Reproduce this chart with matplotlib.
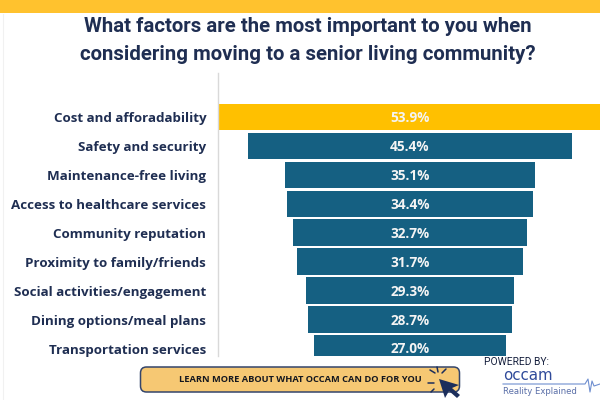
import matplotlib
matplotlib.use("Agg")
import matplotlib.pyplot as plt
from matplotlib.patches import FancyBboxPatch, Polygon, Rectangle

categories = [
    "Cost and afforadability", "Safety and security", "Maintenance-free living",
    "Access to healthcare services", "Community reputation", "Proximity to family/friends",
    "Social activities/engagement", "Dining options/meal plans", "Transportation services",
]
values = [53.9, 45.4, 35.1, 34.4, 32.7, 31.7, 29.3, 28.7, 27.0]
highlight_colors = ["#FFC000"] + ["#156082"] * 8
title_lines = ["What factors are the most important to you when",
               "considering moving to a senior living community?"]
cta_text = "LEARN MORE ABOUT WHAT OCCAM CAN DO FOR YOU"

W, H = 600, 400
NAVY = "#1F2E52"
fig = plt.figure(figsize=(W / 100, H / 100), dpi=100, facecolor="white")

# page layer in pixel units, y pointing down
page = fig.add_axes([0, 0, 1, 1], zorder=0)
page.set_xlim(0, W)
page.set_ylim(H, 0)
page.axis("off")

page.add_patch(Rectangle((0, 0), W, 13, color="#FFC22E", lw=0))
page.plot([3, 3], [14, 400], color="#F1F1F1", lw=0.8)
page.text(307.5, 26.5, title_lines[0], ha="center", va="center", fontsize=14.7,
          family="Roboto", fontweight="bold", color=NAVY)
page.text(307.5, 54, title_lines[1], ha="center", va="center", fontsize=14.7,
          family="Roboto", fontweight="bold", color=NAVY)

# centred funnel bars
SCALE = 7.13
ax_left, ax_top, ax_bottom = 218, 73, 356
ax = fig.add_axes([ax_left / W, 1 - ax_bottom / H, (W - ax_left) / W, (ax_bottom - ax_top) / H],
                  zorder=1)
centre_px = 410 - ax_left
ax.set_xlim(-centre_px / SCALE, (W - ax_left - centre_px) / SCALE)
row = 28.95
ax.set_ylim((ax_bottom - 117) / row, -(117 - ax_top) / row)
ax.patch.set_alpha(0)
positions = list(range(len(values)))
ax.barh(positions, values, left=[-v / 2 for v in values], height=0.92,
        color=highlight_colors, linewidth=0)
for p, v in zip(positions, values):
    ax.text(0, p + 0.03, f"{v:.1f}%", ha="center", va="center", color="#F4F4F4",
            fontsize=9.8, family="Open Sans", fontweight="bold")
ax.set_yticks(positions, categories, fontsize=9.6, family="Open Sans",
              fontweight="bold", color=NAVY)
ax.set_xticks([])
ax.tick_params(axis="y", length=0, pad=8.5)
for side in ("top", "right", "bottom"):
    ax.spines[side].set_visible(False)
ax.spines["left"].set_color("#D9D9D9")
ax.spines["left"].set_linewidth(1)

# call-to-action button
over = fig.add_axes([0, 0, 1, 1], zorder=2)
over.set_xlim(0, W)
over.set_ylim(H, 0)
over.axis("off")
over.add_patch(FancyBboxPatch((140.5, 367), 319, 25, boxstyle="round,pad=0,rounding_size=6",
                              fc="#F6C873", ec="#34456B", lw=1.1))
over.text(300, 379, cta_text, ha="center", va="center", fontsize=6.7,
          family="Open Sans", fontweight="bold", color="#14171F")
over.add_patch(Polygon([(439, 379), (459, 385), (452, 388), (460, 395), (457, 398),
                        (449, 391), (445, 398)], fc="#1C2E5C", ec="none"))
for x0, y0, x1, y1 in [(430, 370, 435, 373), (437, 367, 438, 372), (446, 369, 442, 373),
                       (428, 383, 434, 383), (431, 392, 434, 389)]:
    over.plot([x0, x1], [y0, y1], color="#1C2E5C", lw=1.1, solid_capstyle="round")

# logo block
over.text(484, 362, "POWERED BY:", ha="left", va="center", fontsize=7.4,
          family="Roboto", color="#141E3C")
over.text(503, 375, "occam", ha="left", va="center", fontsize=10.8,
          family="DejaVu Sans", color="#2F4A9A")
over.plot([503, 585, 588, 590, 592, 594, 600],
          [384, 384, 379, 392, 381, 386, 384], color="#6F8FD0", lw=0.8)
over.text(503, 391, "Reality Explained", ha="left", va="center", fontsize=6.1,
          family="DejaVu Sans", fontweight="medium", color="#5A6FA8")

fig.savefig("out.png", dpi=100)
